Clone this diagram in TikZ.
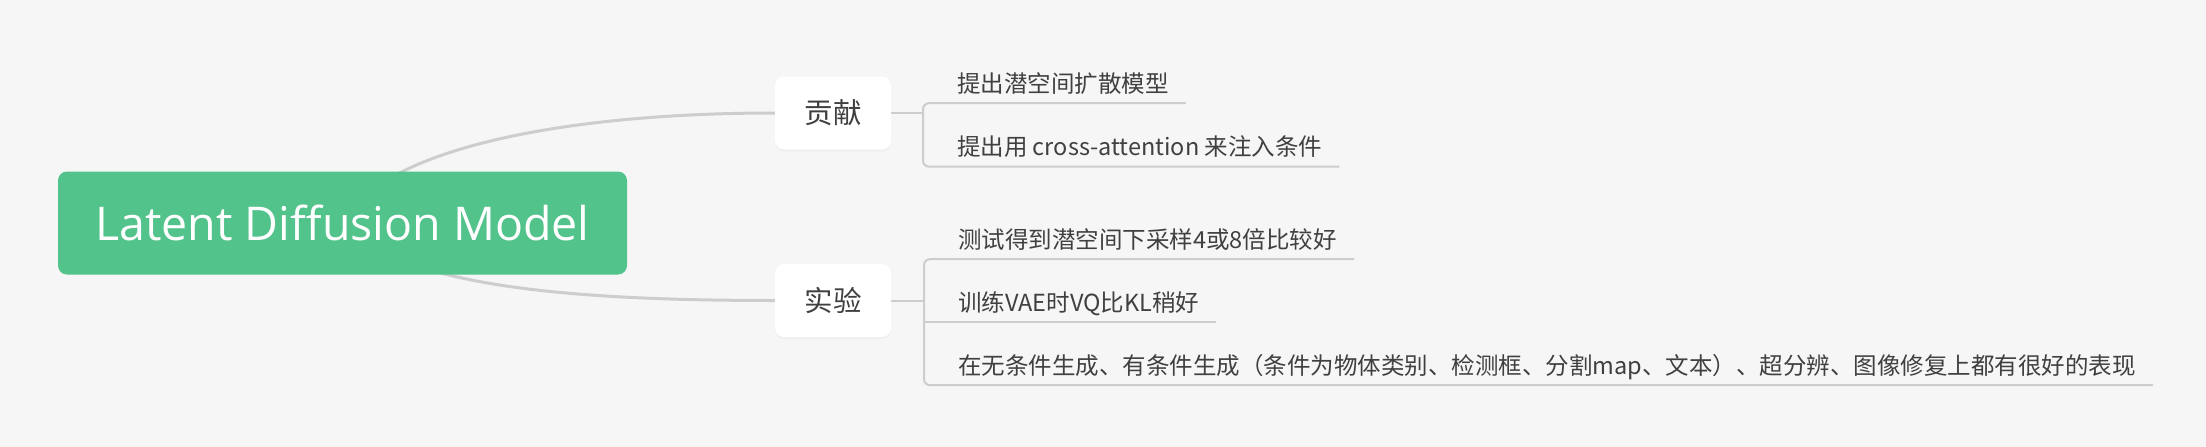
\documentclass[tikz,border=0pt]{standalone}
\usepackage{fontspec}
\setmainfont{Open Sans}
\newfontfamily\cjk{Noto Sans CJK SC}
\usepackage{xcolor}
\usetikzlibrary{calc,backgrounds,shadows}
\definecolor{bggray}{HTML}{F6F6F6}
\definecolor{rootgreen}{HTML}{52C38B}
\definecolor{linegray}{HTML}{CDCDCD}
\definecolor{txtgray}{HTML}{404040}

\begin{document}
\begin{tikzpicture}[x=1pt, y=-1pt,
    root/.style={fill=rootgreen, text=white, rounded corners=9pt, minimum width=569pt, minimum height=103pt, font=\fontsize{46.5}{54}\selectfont},
    topic/.style={fill=white, rounded corners=9pt, minimum width=116pt, minimum height=73pt, text=txtgray, font=\cjk\fontsize{28.5}{34}\selectfont, drop shadow={shadow xshift=0pt, shadow yshift=-2pt, opacity=0.05}},
    item/.style={anchor=base west, inner xsep=17pt, inner ysep=0pt, text depth=11pt, text=txtgray, font=\cjk\fontsize{23.5}{28}\selectfont},
    curve/.style={linegray, line width=3pt},
    link/.style={linegray, line width=2pt, rounded corners=6pt}]

    \begin{scope}[on background layer]
      \fill[bggray] (0,0) rectangle (2206,447);
    \end{scope}

    \node[root] (ldm) at (342.5,223) {Latent Diffusion Model};
    \node[topic] (gx) at (833,113) {贡献};
    \node[topic] (sy) at (833,300.5) {实验};

    \coordinate (gxb) at (923,113);
    \coordinate (syb) at (924,300.5);

    \node[item] (gx1) at (940,92) {提出潜空间扩散模型};
    \node[item] (gx2) at (940,155.5) {提出用 cross-attention 来注入条件};

    \node[item] (sy1) at (941,248) {测试得到潜空间下采样4或8倍比较好};
    \node[item] (sy2) at (941,311) {训练VAE时VQ比KL稍好};
    \node[item] (sy3) at (941,374) {在无条件生成、有条件生成（条件为物体类别、检测框、分割map、文本）、超分辨、图像修复上都有很好的表现};

    \begin{scope}[on background layer]
      \draw[curve] (ldm.center) .. controls (380,150) and (560,113) .. (gx.west);
      \draw[curve] (ldm.center) .. controls (400,285) and (560,300.5) .. (sy.west);
    \end{scope}

    \draw[link] (gx.east) -- (gxb);
    \draw[link] (gx1.south east) -- (gx1.south west -| gxb) -- (gx2.south west -| gxb) -- (gx2.south east);

    \draw[link] (sy.east) -- (syb);
    \draw[link] (sy1.south east) -- (sy1.south west -| syb) -- (sy3.south west -| syb) -- (sy3.south east);
    \draw[link] (sy2.south west -| syb) -- (sy2.south east);

\end{tikzpicture}
\end{document}
